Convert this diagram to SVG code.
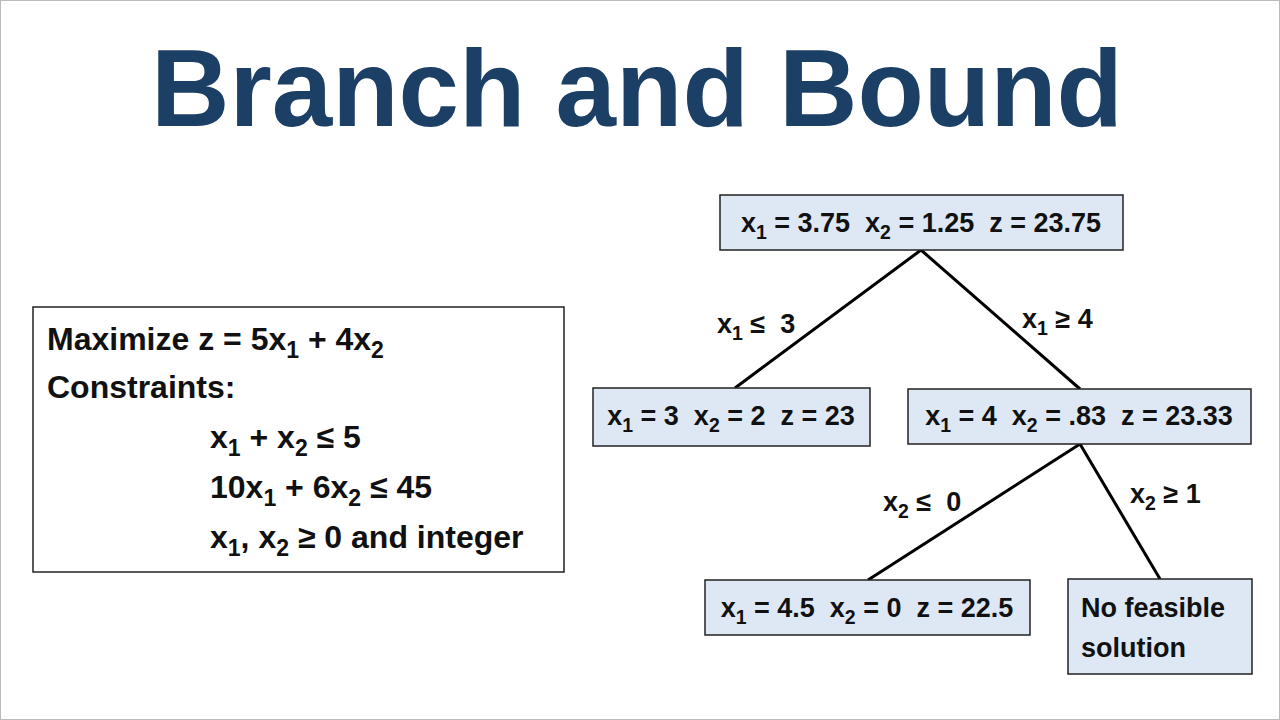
<svg xmlns="http://www.w3.org/2000/svg" width="1280" height="720" viewBox="0 0 1280 720">
<style>
text{font-family:"Liberation Sans",Arial,sans-serif;font-weight:bold;fill:#111;white-space:pre}
.t{font-size:110px;fill:#1c3f66}
.n{font-size:27px}
.b{font-size:32px}
.s{font-size:0.72em}
.node{fill:#dde8f4;stroke:#222;stroke-width:1.5}
.edge{stroke:#000;stroke-width:3;fill:none}
</style>
<rect x="0.5" y="0.5" width="1279" height="719" fill="#fff" stroke="#bbb"/>
<text class="t" x="637" y="126" text-anchor="middle" textLength="972" lengthAdjust="spacingAndGlyphs">Branch and Bound</text>
<g id="problem">
<rect x="33" y="307" width="531" height="265" fill="#fff" stroke="#222" stroke-width="1.5"/>
<text class="b" x="47" y="350">Maximize z = 5x<tspan class="s" dy="8">1</tspan><tspan dy="-8"> + 4x</tspan><tspan class="s" dy="8">2</tspan></text>
<text class="b" x="47" y="398">Constraints:</text>
<text class="b" x="210" y="448">x<tspan class="s" dy="8">1</tspan><tspan dy="-8"> + x</tspan><tspan class="s" dy="8">2</tspan><tspan dy="-8"> ≤ 5</tspan></text>
<text class="b" x="210" y="498">10x<tspan class="s" dy="8">1</tspan><tspan dy="-8"> + 6x</tspan><tspan class="s" dy="8">2</tspan><tspan dy="-8"> ≤ 45</tspan></text>
<text class="b" x="210" y="548">x<tspan class="s" dy="8">1</tspan><tspan dy="-8">, x</tspan><tspan class="s" dy="8">2</tspan><tspan dy="-8"> ≥ 0 and integer</tspan></text>
</g>
<g id="connectors">
<line class="edge" x1="921" y1="250" x2="735" y2="388"/>
<line class="edge" x1="921" y1="250" x2="1080" y2="389"/>
<line class="edge" x1="1080" y1="444" x2="868" y2="580"/>
<line class="edge" x1="1080" y1="444" x2="1160" y2="579"/>
<text class="n" x="717" y="333">x<tspan class="s" dy="7">1</tspan><tspan dy="-7"> ≤  3</tspan></text>
<text class="n" x="1022" y="328">x<tspan class="s" dy="7">1</tspan><tspan dy="-7"> ≥ 4</tspan></text>
<text class="n" x="883" y="511">x<tspan class="s" dy="7">2</tspan><tspan dy="-7"> ≤  0</tspan></text>
<text class="n" x="1130" y="503">x<tspan class="s" dy="7">2</tspan><tspan dy="-7"> ≥ 1</tspan></text>
</g>
<g id="root">
<rect class="node" x="720" y="195" width="403" height="55"/>
<text class="n" x="921" y="232" text-anchor="middle">x<tspan class="s" dy="7">1</tspan><tspan dy="-7"> = 3.75  x</tspan><tspan class="s" dy="7">2</tspan><tspan dy="-7"> = 1.25  z = 23.75</tspan></text>
</g>
<g id="left">
<rect class="node" x="593" y="388" width="277" height="58" stroke="#e01010" stroke-width="3"/>
<text class="n" x="731" y="425" text-anchor="middle">x<tspan class="s" dy="7">1</tspan><tspan dy="-7"> = 3  x</tspan><tspan class="s" dy="7">2</tspan><tspan dy="-7"> = 2  z = 23</tspan></text>
</g>
<g id="right">
<rect class="node" x="908" y="389" width="343" height="55"/>
<text class="n" x="1079" y="425" text-anchor="middle">x<tspan class="s" dy="7">1</tspan><tspan dy="-7"> = 4  x</tspan><tspan class="s" dy="7">2</tspan><tspan dy="-7"> = .83  z = 23.33</tspan></text>
</g>
<g id="bottomleft">
<rect class="node" x="705" y="580" width="325" height="55"/>
<text class="n" x="867" y="617" text-anchor="middle">x<tspan class="s" dy="7">1</tspan><tspan dy="-7"> = 4.5  x</tspan><tspan class="s" dy="7">2</tspan><tspan dy="-7"> = 0  z = 22.5</tspan></text>
</g>
<g id="bottomright">
<rect class="node" x="1068" y="579" width="184" height="95"/>
<text class="n" x="1081" y="617">No feasible</text>
<text class="n" x="1081" y="657">solution</text>
</g>
</svg>
